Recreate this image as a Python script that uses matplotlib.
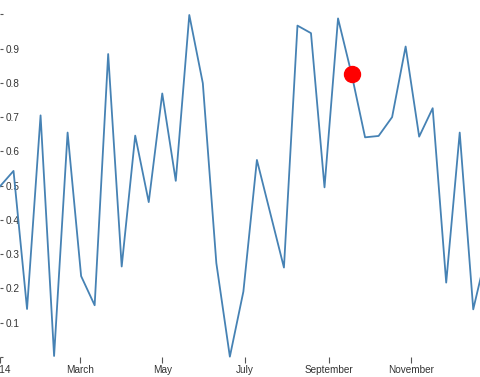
import matplotlib
matplotlib.use("Agg")
import matplotlib.pyplot as plt
import matplotlib.dates as mdates

# Data: one value every 10 days through 2014
dates = ["2014-01-01", "2014-01-11", "2014-01-21", "2014-01-31", "2014-02-10",
         "2014-02-20", "2014-03-02", "2014-03-12", "2014-03-22", "2014-04-01",
         "2014-04-11", "2014-04-21", "2014-05-01", "2014-05-11", "2014-05-21",
         "2014-05-31", "2014-06-10", "2014-06-20", "2014-06-30", "2014-07-10",
         "2014-07-20", "2014-07-30", "2014-08-09", "2014-08-19", "2014-08-29",
         "2014-09-08", "2014-09-18", "2014-09-28", "2014-10-08", "2014-10-18",
         "2014-10-28", "2014-11-07", "2014-11-17", "2014-11-27", "2014-12-07",
         "2014-12-17", "2014-12-27"]
values = [0.498, 0.543, 0.140, 0.705, 0.003, 0.655, 0.236, 0.151, 0.884, 0.264,
          0.646, 0.452, 0.769, 0.514, 0.998, 0.799, 0.274, 0.001, 0.191, 0.575,
          0.418, 0.261, 0.967, 0.945, 0.495, 0.988, 0.826, 0.641, 0.645, 0.700,
          0.906, 0.643, 0.726, 0.217, 0.655, 0.139, 0.307]

# the point marked in red
highlight_date = "2014-09-18"
highlight_value = 0.826

tick_dates = ["2014-01-01", "2014-03-01", "2014-05-01", "2014-07-01", "2014-09-01", "2014-11-01"]
tick_labels = ["2014", "March", "May", "July", "September", "November"]
y_ticks = [0.0, 0.1, 0.2, 0.3, 0.4, 0.5, 0.6, 0.7, 0.8, 0.9, 1.0]

plt.rcParams['font.family'] = ['Liberation Sans', 'DejaVu Sans']

x = mdates.datestr2num(dates)

fig = plt.figure(figsize=(4.8, 3.77), dpi=100)
ax = fig.add_axes([0, 20 / 377, 1, 342.7 / 377])

ax.plot(x, values, color='#4682b4', linewidth=1.3, clip_on=False, zorder=2)
ax.plot(mdates.datestr2num([highlight_date]), [highlight_value], 'o',
        color='#ff0000', markersize=11.5, clip_on=False, zorder=3)

# chart is panned so Jan 1 sits just off the left edge
start = mdates.datestr2num("2014-01-01")
ax.set_xlim(start + 1.84, start + 355.0)
ax.set_ylim(0, 1)

for s in ax.spines.values():
    s.set_visible(False)

# x axis
ax.set_xticks(mdates.datestr2num(tick_dates))
ax.set_xticklabels(tick_labels)
ax.tick_params(axis='x', direction='out', length=4, pad=2, width=0.8,
               color='#555555', labelcolor='#333333', labelsize=7.2)

# y axis: ticks and labels sit just right of the left edge
ax.yaxis.tick_right()
ax.spines['right'].set_position(('axes', 0))
ax.set_yticks(y_ticks)
ax.set_yticklabels(['' if v in (0.0, 1.0) else f'{v:.1f}' for v in y_ticks])
ax.tick_params(axis='y', direction='out', length=2.5, pad=1.5, width=0.8,
               color='#555555', labelcolor='#333333', labelsize=7.2)

fig.savefig("out.png", dpi=100)
